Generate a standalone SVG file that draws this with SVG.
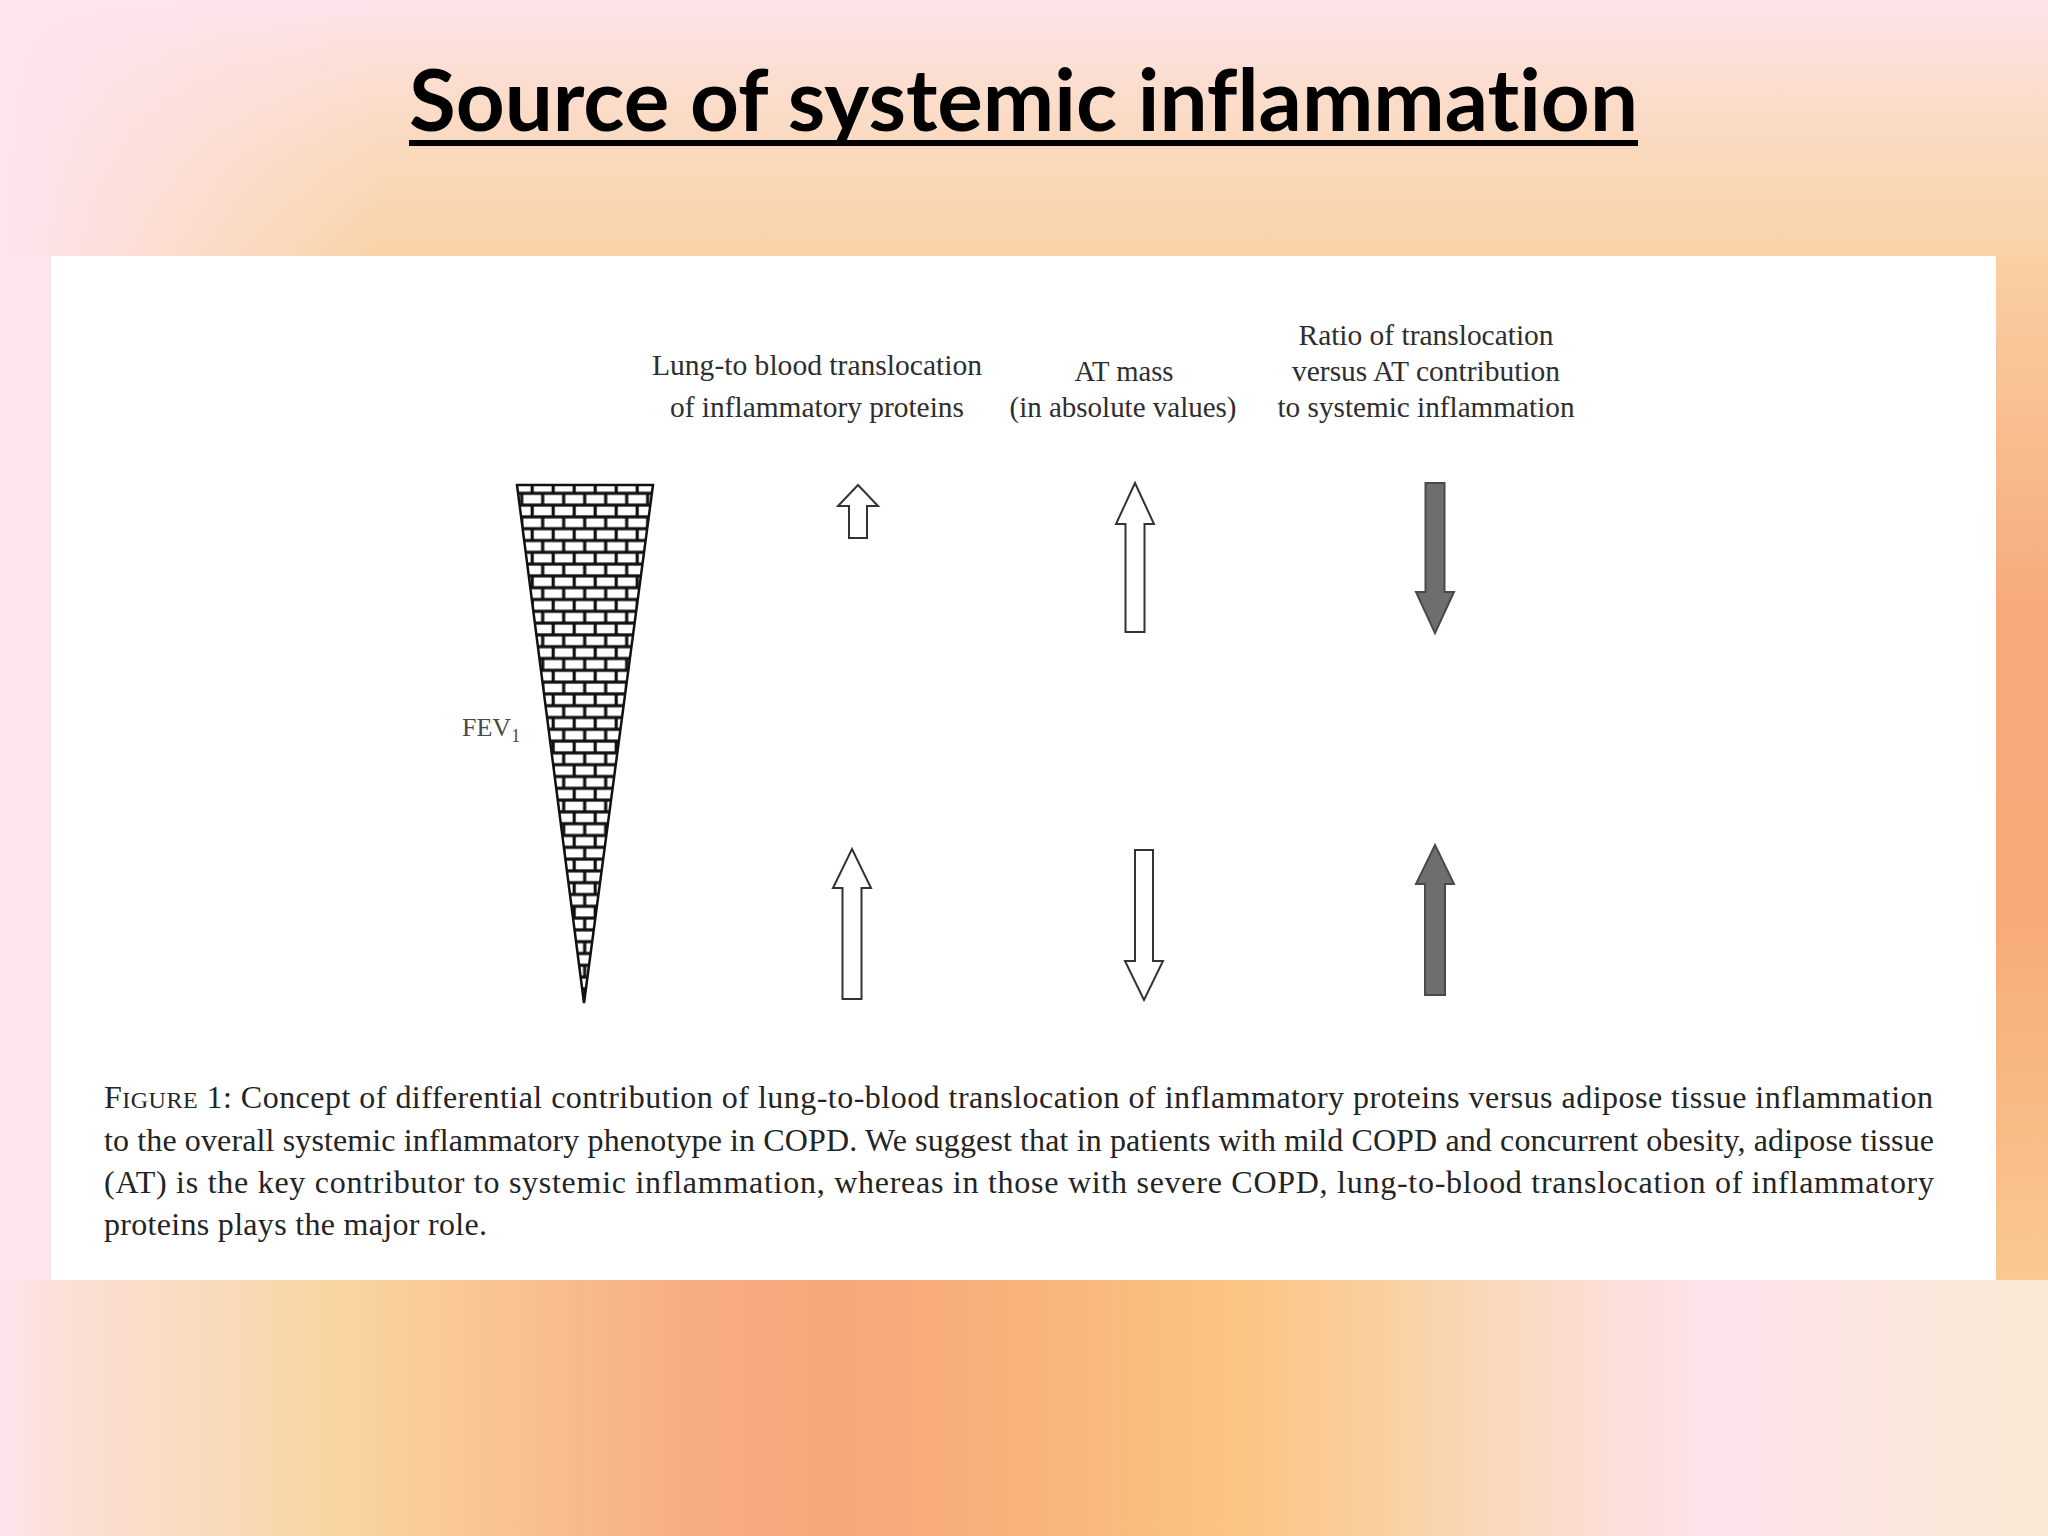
<svg xmlns="http://www.w3.org/2000/svg" width="2048" height="1536" viewBox="0 0 2048 1536">
  <defs>
    <linearGradient id="topG" x1="0" y1="0" x2="0" y2="1">
      <stop offset="0" stop-color="#fde3ec"/>
      <stop offset="0.18" stop-color="#fce0da"/>
      <stop offset="0.6" stop-color="#fad9bc"/>
      <stop offset="1" stop-color="#f9d3a7"/>
    </linearGradient>
    <linearGradient id="leftFade" x1="0" y1="0" x2="1" y2="0">
      <stop offset="0" stop-color="#fde4ee" stop-opacity="1"/>
      <stop offset="0.15" stop-color="#fde4ee" stop-opacity="0.85"/>
      <stop offset="1" stop-color="#fde4ee" stop-opacity="0"/>
    </linearGradient>
    <linearGradient id="rightG" x1="0" y1="0" x2="0" y2="1">
      <stop offset="0" stop-color="#f9cfa4"/>
      <stop offset="0.35" stop-color="#f7aa7a"/>
      <stop offset="0.65" stop-color="#f7ab78"/>
      <stop offset="1" stop-color="#f9c98f"/>
    </linearGradient>
    <linearGradient id="botG" x1="0" y1="0" x2="1" y2="0">
      <stop offset="0" stop-color="#fde4ee"/>
      <stop offset="0.025" stop-color="#fbe0d8"/>
      <stop offset="0.09" stop-color="#f9dcc0"/>
      <stop offset="0.17" stop-color="#f9d4a0"/>
      <stop offset="0.25" stop-color="#f9c291"/>
      <stop offset="0.34" stop-color="#f7ac80"/>
      <stop offset="0.41" stop-color="#f6a779"/>
      <stop offset="0.5" stop-color="#f9b27a"/>
      <stop offset="0.6" stop-color="#fbc47f"/>
      <stop offset="0.69" stop-color="#f9d2a6"/>
      <stop offset="0.77" stop-color="#fbddd0"/>
      <stop offset="0.84" stop-color="#fde3eb"/>
      <stop offset="0.91" stop-color="#fce6e0"/>
      <stop offset="1" stop-color="#fbe8d4"/>
    </linearGradient>
    <pattern id="brick" patternUnits="userSpaceOnUse" x="521.7" y="493.3" width="21" height="23.6">
      <rect x="0" y="0" width="21" height="23.6" fill="#111"/>
      <rect x="1.6" y="1.6" width="17.8" height="8.6" fill="#fff"/>
      <rect x="-8.9" y="13.4" width="17.8" height="8.6" fill="#fff"/>
      <rect x="12.1" y="13.4" width="17.8" height="8.6" fill="#fff"/>
    </pattern>
    <style>
      .hdr { font-family: "Liberation Serif", "Times New Roman", serif; font-size: 30px; fill: #2e2e2e; text-anchor: middle; }
      .cap { font-family: "Liberation Serif", "Times New Roman", serif; font-size: 32px; fill: #242424; }
      .open { fill: #ffffff; stroke: #333; stroke-width: 2; stroke-linejoin: miter; }
      .gray { fill: #6e6e6e; stroke: #4a4a4a; stroke-width: 2; stroke-linejoin: miter; }
    </style>
  </defs>

  <!-- background -->
  <rect x="0" y="0" width="2048" height="1536" fill="#fde4ee"/>
  <rect x="0" y="0" width="2048" height="256" fill="url(#topG)"/>
  <rect x="0" y="0" width="380" height="256" fill="url(#leftFade)"/>
  <rect x="1996" y="256" width="52" height="1024" fill="url(#rightG)"/>
  <rect x="0" y="1280" width="2048" height="256" fill="url(#botG)"/>
  <rect x="0" y="256" width="51" height="1024" fill="#fde4ee"/>

  <!-- title -->
  <g id="title">
    <text x="409" y="131" font-family="Lato, 'Open Sans', sans-serif" font-weight="700" font-size="86" fill="#000" style="font-variant-ligatures: none;" textLength="1229" lengthAdjust="spacingAndGlyphs">Source of systemic inflammation</text>
    <rect x="409" y="140" width="1229" height="6" fill="#000"/>
  </g>

  <!-- white figure panel -->
  <rect id="panel" x="51" y="256" width="1945" height="1024" fill="#ffffff"/>

  <!-- FEV1 wedge -->
  <g id="fev-wedge">
    <polygon points="517,485 653,485 584,1003" fill="url(#brick)" stroke="#111" stroke-width="2.5" stroke-linejoin="miter"/>
  </g>
  <g id="fev-label">
    <text x="462" y="736" font-family="'Liberation Serif', serif" font-size="26" fill="#4a4a4a">FEV<tspan dy="6" font-size="18">1</tspan></text>
  </g>

  <!-- column headers -->
  <g id="hdr-lung">
    <text class="hdr" x="817" y="375" textLength="330" lengthAdjust="spacingAndGlyphs">Lung-to blood translocation</text>
    <text class="hdr" x="817" y="417" textLength="294" lengthAdjust="spacingAndGlyphs">of inflammatory proteins</text>
  </g>
  <g id="hdr-at">
    <text class="hdr" x="1124" y="381" textLength="99" lengthAdjust="spacingAndGlyphs">AT mass</text>
    <text class="hdr" x="1123" y="417" textLength="227" lengthAdjust="spacingAndGlyphs">(in absolute values)</text>
  </g>
  <g id="hdr-ratio">
    <text class="hdr" x="1426" y="345" textLength="255" lengthAdjust="spacingAndGlyphs">Ratio of translocation</text>
    <text class="hdr" x="1426" y="381" textLength="268" lengthAdjust="spacingAndGlyphs">versus AT contribution</text>
    <text class="hdr" x="1426" y="417" textLength="297" lengthAdjust="spacingAndGlyphs">to systemic inflammation</text>
  </g>

  <!-- arrows -->
  <g id="arrow-lung-top">
    <polygon class="open" points="858,485 878,506 867,506 867,538 849,538 849,506 838,506"/>
  </g>
  <g id="arrow-at-top">
    <polygon class="open" points="1135,483 1154,524 1144.5,524 1144.5,632 1125.5,632 1125.5,524 1116,524"/>
  </g>
  <g id="arrow-ratio-top">
    <polygon class="gray" points="1425.5,483 1444.5,483 1444.5,592 1454,592 1435,633 1416,592 1425.5,592"/>
  </g>
  <g id="arrow-lung-bottom">
    <polygon class="open" points="852,849 871,888 861.5,888 861.5,999 842.5,999 842.5,888 833,888"/>
  </g>
  <g id="arrow-at-bottom">
    <polygon class="open" points="1135,850 1153,850 1153,961 1163,961 1144,1000 1125,961 1135,961"/>
  </g>
  <g id="arrow-ratio-bottom">
    <polygon class="gray" points="1435,845 1454,884 1445,884 1445,995 1425,995 1425,884 1416,884"/>
  </g>

  <!-- caption -->
  <g id="caption">
    <text class="cap" x="104" y="1108" textLength="1829" lengthAdjust="spacing">F<tspan font-size="24">IGURE</tspan> 1: Concept of differential contribution of lung-to-blood translocation of inflammatory proteins versus adipose tissue inflammation</text>
    <text class="cap" x="104" y="1151" textLength="1830" lengthAdjust="spacing">to the overall systemic inflammatory phenotype in COPD. We suggest that in patients with mild COPD and concurrent obesity, adipose tissue</text>
    <text class="cap" x="104" y="1193" textLength="1830" lengthAdjust="spacing">(AT) is the key contributor to systemic inflammation, whereas in those with severe COPD, lung-to-blood translocation of inflammatory</text>
    <text class="cap" x="104" y="1235" textLength="383" lengthAdjust="spacing">proteins plays the major role.</text>
  </g>
</svg>
